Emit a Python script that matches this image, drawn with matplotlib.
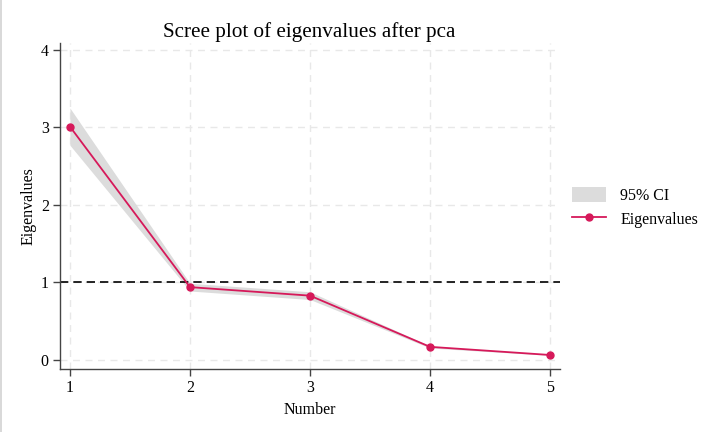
import numpy as np
import matplotlib
matplotlib.use('Agg')
import matplotlib.pyplot as plt
from matplotlib.patches import Patch
from matplotlib.lines import Line2D

plt.rcParams['font.family'] = ['Liberation Serif', 'DejaVu Serif']

number = [1, 2, 3, 4, 5]
eigenvalues = [3.01, 0.94, 0.83, 0.17, 0.065]
ci_low = [2.77, 0.89, 0.78, 0.155, 0.06]
ci_high = [3.25, 0.99, 0.88, 0.18, 0.07]

line_col = '#d6195a'
ci_col = '#dcdcdc'

fig = plt.figure(figsize=(7.2, 4.32), dpi=100)
ax = fig.add_axes([0.0833, 0.1458, 0.6945, 0.755])

ax.fill_between(number, ci_low, ci_high, color=ci_col, lw=0, zorder=1)
ax.plot(number, eigenvalues, color=line_col, lw=1.3, marker='o', ms=5, zorder=3)
ax.axhline(1, color='black', ls=(0, (5, 3)), lw=1.2, zorder=2)

ax.set_xlim(0.917, 5.083)
ax.set_ylim(-0.116, 4.09)
ax.set_xticks(number)
ax.set_yticks([0, 1, 2, 3, 4])
ax.grid(True, color='#e8e8e8', ls=(0, (5, 4)), lw=1, zorder=0)
ax.set_axisbelow(True)

for s in ['top', 'right']:
    ax.spines[s].set_visible(False)
for s in ['left', 'bottom']:
    ax.spines[s].set_color('#444444')
    ax.spines[s].set_linewidth(1.0)
ax.tick_params(direction='out', length=5, width=1, color='#444444',
               labelsize=11.5, pad=3)

ax.set_xlabel('Number', fontsize=11.5, labelpad=4)
ax.set_ylabel('Eigenvalues', fontsize=11.5, labelpad=3)
fig.text(0.43, 0.925, 'Scree plot of eigenvalues after pca', ha='center',
         va='center', fontsize=15.2)

handles = [Patch(facecolor=ci_col, edgecolor='none', label='95% CI'),
           Line2D([0], [0], color=line_col, lw=1.3, marker='o', ms=5,
                  label='Eigenvalues')]
fig.legend(handles=handles, loc='center left', bbox_to_anchor=(0.775, 0.52),
           frameon=False, fontsize=11.5, handlelength=2.1, handleheight=1.1,
           handletextpad=0.9, labelspacing=0.4)

fig.patches.append(plt.Rectangle((0, 0), 0.003, 1, transform=fig.transFigure,
                                 facecolor='#d9d9d9', edgecolor='none'))

fig.savefig('out.png', dpi=100)
